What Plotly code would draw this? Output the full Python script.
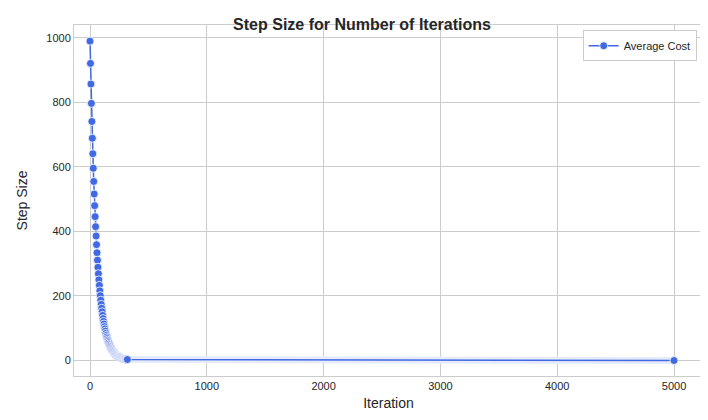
import plotly.graph_objects as go

iterations = list(range(0, 324, 4)) + [5000]
step_size = [990, 921, 857, 797, 741, 689, 641, 596, 555, 516, 480, 446, 415, 386, 359,
             334, 311, 289, 269, 250, 233, 216, 201, 187, 174, 162, 151, 140, 130, 121,
             113, 105, 98, 91, 84, 78, 73, 68, 63, 59, 55, 51, 47, 44, 41, 38, 35, 33,
             31, 29, 27, 25, 23, 21, 20, 18.6, 17.3, 16.1, 15, 14, 13, 12, 11.2, 10.4,
             9.7, 9, 8.4, 7.8, 7.2, 6.7, 6.3, 5.8, 5.4, 5, 4.7, 4.4, 4.1, 3.8, 3.5, 3.3,
             3.1, 0]

fig = go.Figure()
# dense tail of near-zero points shows as a pale band
fig.add_trace(go.Scatter(x=iterations[-2:], y=step_size[-2:], mode='lines',
                         line=dict(color='#e6ebfb', width=7), showlegend=False, hoverinfo='skip'))
fig.add_trace(go.Scatter(x=iterations, y=step_size, mode='lines+markers', name='Average Cost',
                         line=dict(color='royalblue', width=1.5),
                         marker=dict(size=8, color='royalblue', line=dict(color='white', width=0.8))))

fig.update_layout(
    width=708, height=420, template='plotly_white',
    font=dict(family='Liberation Sans, Arial', size=11, color='#262626'),
    title=dict(text='<b>Step Size for Number of Iterations</b>', x=0.5, y=0.975,
               font=dict(size=16, color='#262626')),
    margin=dict(l=66, r=13, t=17, b=52),
    plot_bgcolor='white',
    legend=dict(x=0.99, y=0.985, xanchor='right', yanchor='top', bordercolor='#cccccc',
                borderwidth=1, bgcolor='white'),
    xaxis=dict(title=dict(text='Iteration', font=dict(size=14), standoff=6), range=[-137, 5248],
               tickvals=[0, 1000, 2000, 3000, 4000, 5000], gridcolor='#cccccc',
               showline=True, linecolor='#cccccc', mirror=True, zeroline=False),
    yaxis=dict(title=dict(text='Step Size', font=dict(size=14)), range=[-48, 1040],
               tickvals=[0, 200, 400, 600, 800, 1000], gridcolor='#cccccc',
               showline=True, linecolor='#cccccc', mirror=True, zeroline=False),
)
fig.write_html('out.html')
